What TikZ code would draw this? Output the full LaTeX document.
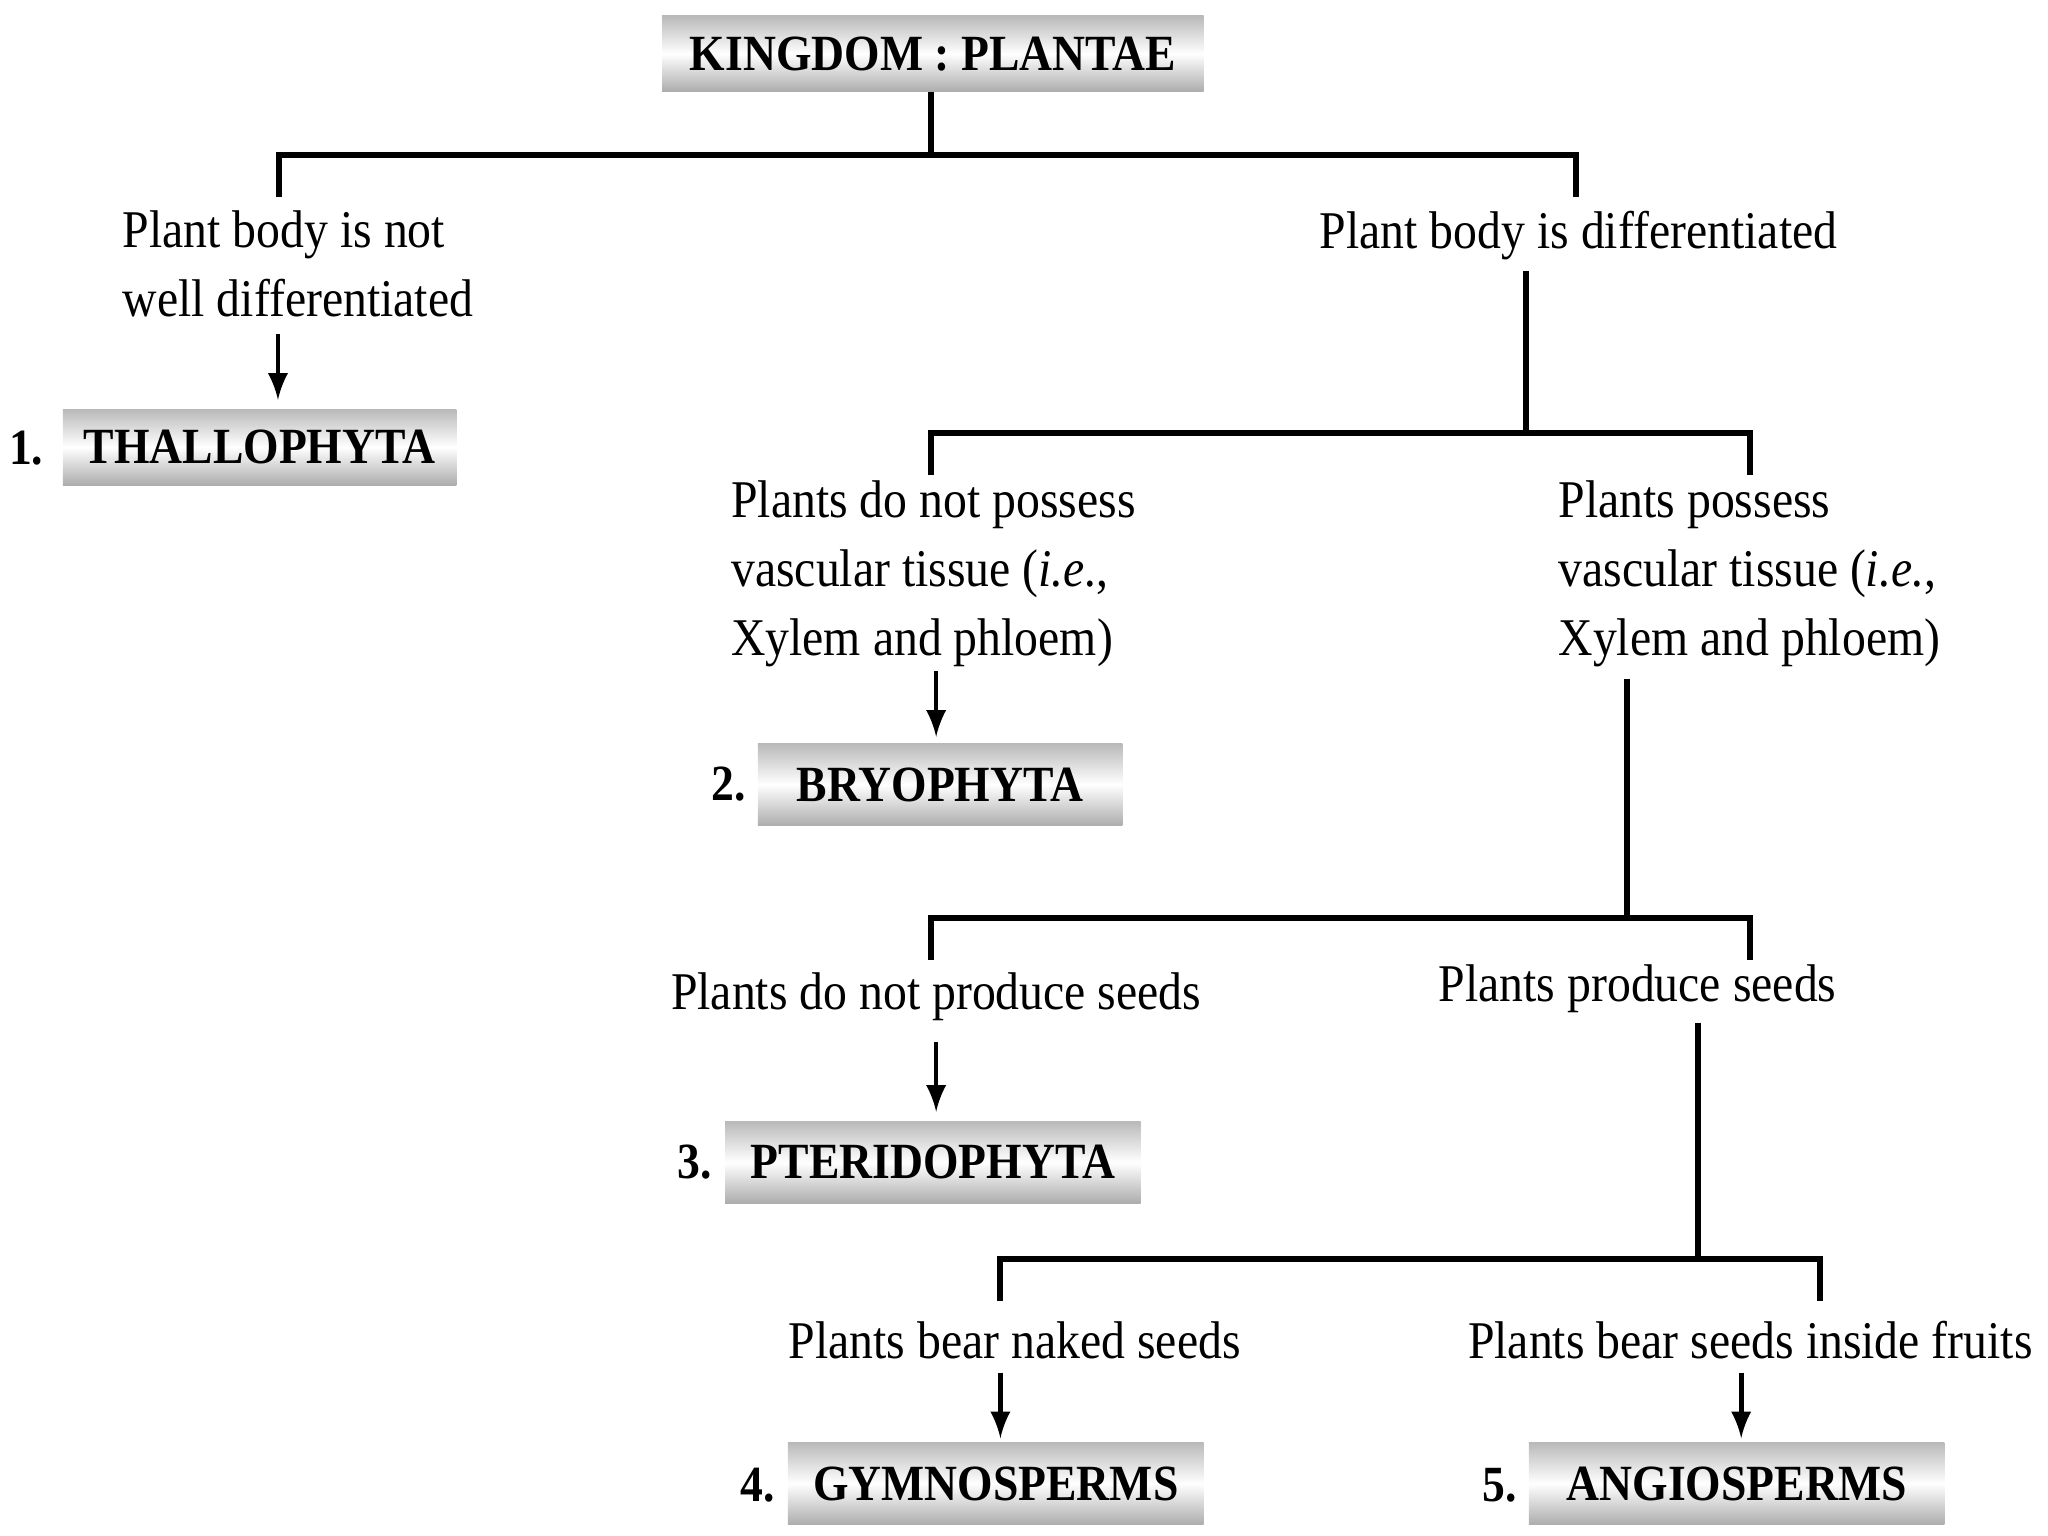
\documentclass[tikz,border=0pt]{standalone}
\usepackage{fontspec}
\setmainfont[FakeStretch=0.9]{Liberation Serif}
\begin{document}
\begin{tikzpicture}[x=0.01cm,y=-0.01cm,
  tx/.style={font=\fontsize{11.5}{13}\selectfont, inner sep=0pt},
  txl/.style={tx, align=left, anchor=north west},
  bx/.style={font=\fontsize{11}{13}\selectfont\bfseries, inner sep=0pt, text=black},
  ln/.style={line width=1.3pt},
  ar/.style={line width=1pt,-latex}]
\useasboundingbox (0,0) rectangle (1562,1171);
\newcommand{\gbox}[5]{%
  \shade[top color=gray!55, bottom color=gray!65, middle color=white] (#1,#2) rectangle (#3,#4);
  \node[bx] at ({(#1+#3)/2},{(#2+#4)/2}) {#5};}
\gbox{505}{12}{918}{70}{KINGDOM : PLANTAE}
\coordinate (k) at (710,70);
\gbox{48}{312}{348}{370}{THALLOPHYTA}
\node[bx] (n1) at (20,342) {1.};
\gbox{578}{567}{856}{630}{BRYOPHYTA}
\node[bx] (n2) at (556,598) {2.};
\gbox{553}{855}{870}{918}{PTERIDOPHYTA}
\node[bx] (n3) at (530,886) {3.};
\gbox{601}{1100}{918}{1163}{GYMNOSPERMS}
\node[bx] (n4) at (578,1133) {4.};
\gbox{1166}{1100}{1483}{1163}{ANGIOSPERMS}
\node[bx] (n5) at (1144,1133) {5.};

\draw[ln] (k) -- (710,118) coordinate (j1);
\draw[ln] (213,150) -- (213,118) -- (1202,118) -- (1202,150);
\node[txl] (t1) at (93,160) {Plant body is not\\[2pt]well differentiated};
\draw[ar] (212,255) -- (212,305);
\node[tx] (t2) at (1204,180) {Plant body is differentiated};
\draw[ln] (1164,207) -- (1164,330);
\draw[ln] (710,362) -- (710,330) -- (1335,330) -- (1335,362);
\node[txl] (t3) at (557,366) {Plants do not possess\\[2pt]vascular tissue (\textit{i.e.},\\[2pt]Xylem and phloem)};
\node[txl] (t4) at (1188,366) {Plants possess\\[2pt]vascular tissue (\textit{i.e.},\\[2pt]Xylem and phloem)};
\draw[ar] (714,512) -- (714,562);
\draw[ln] (1241,518) -- (1241,700);
\draw[ln] (710,732) -- (710,700) -- (1335,700) -- (1335,732);
\node[tx] (t5) at (714,760) {Plants do not produce seeds};
\node[tx] (t6) at (1249,754) {Plants produce seeds};
\draw[ar] (714,795) -- (714,848);
\draw[ln] (1295,780) -- (1295,960);
\draw[ln] (763,992) -- (763,960) -- (1388,960) -- (1388,992);
\node[tx] (t7) at (774,1022) {Plants bear naked seeds};
\node[tx] (t8) at (1335,1022) {Plants bear seeds inside fruits};
\draw[ar] (763,1047) -- (763,1097);
\draw[ar] (1328,1047) -- (1328,1097);
\end{tikzpicture}
\end{document}
